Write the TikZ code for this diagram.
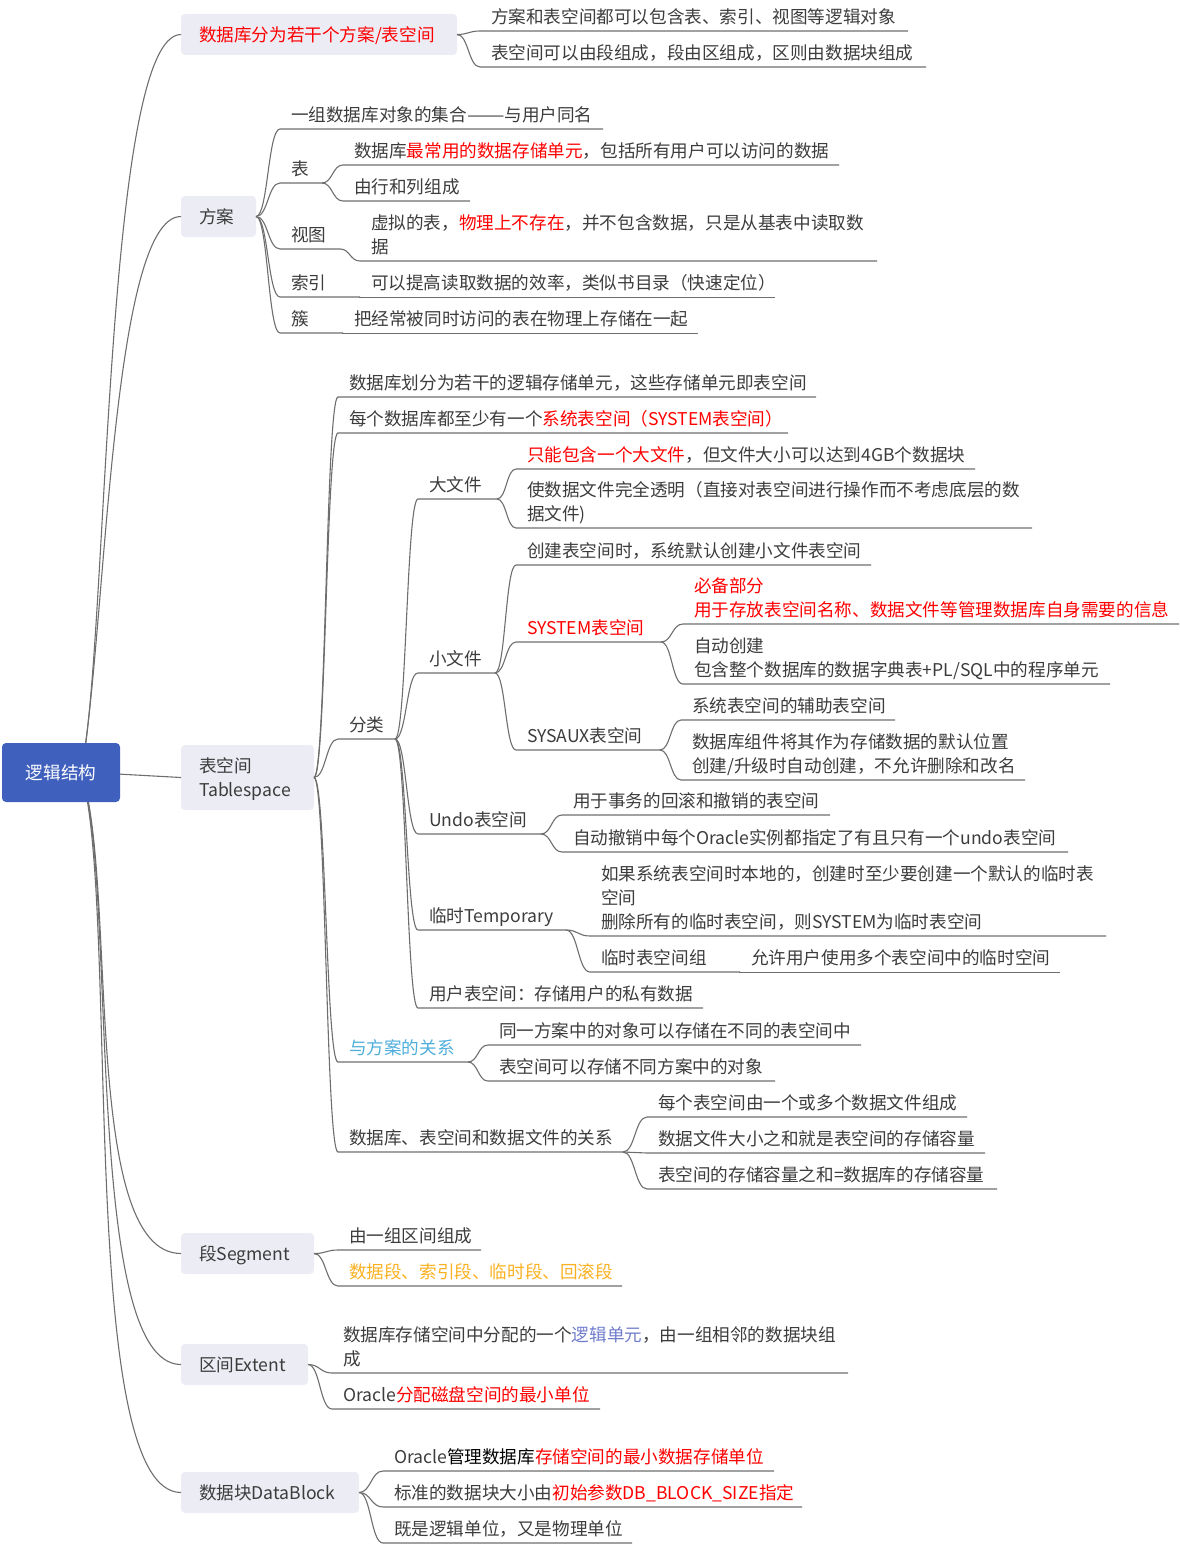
\documentclass[tikz,border=0pt]{standalone}
\usepackage{fontspec}
\setmainfont{Noto Sans CJK SC}
\usetikzlibrary{calc}

\definecolor{linkgray}{HTML}{6E6E6E}
\definecolor{textgray}{HTML}{3C3C3C}
\definecolor{topicfill}{HTML}{EBECF4}
\definecolor{rootfill}{HTML}{4060BE}
\definecolor{skyblue}{HTML}{4FAEDB}
\definecolor{amber}{HTML}{FBB122}
\definecolor{slate}{HTML}{6F7CCB}

\newcommand{\hl}[1]{\textcolor{red}{#1}}
% full-width punctuation
\newcommand{\dou}{\symbol{"FF0C}}
\newcommand{\mao}{\symbol{"FF1A}}
\newcommand{\zuo}{\symbol{"FF08}}
\newcommand{\you}{\symbol{"FF09}}
% curve from a parent's end to the start of a child's underline, then along it
\newcommand{\twig}[2]{\draw[link] (#1) .. controls ($(#1)!0.5!(#2.south west |- #1)$) and ($(#2.south west)!0.5!(#1 |- #2.south west)$) .. (#2.south west) -- (#2.south east);}

\tikzset{
	link/.style={draw=linkgray,line width=1.1pt},
	leaf/.style={anchor=south west,text width={(#1-22)*1pt},inner xsep=11pt,inner ysep=0.3pt,outer sep=0pt,align=left,execute at end node=\strut},
	topic/.style={anchor=west,fill=topicfill,rounded corners=4pt,text width={(#1-36)*1pt},inner xsep=18pt,inner ysep=0pt,outer sep=0pt,minimum height=41pt,align=left,execute at begin node={\rule{0pt}{18pt}},execute at end node={\rule[-4.6pt]{0pt}{4.6pt}}},
}

\begin{document}
\begin{tikzpicture}[x=1pt,y=-1pt,font=\fontsize{17.6}{24}\selectfont,text=textgray]
	\useasboundingbox (0,0) rectangle (1179,1544);
	
	\coordinate (rootmid) at (81,772);
	\node[topic=276] (space) at (181,34.5) {\hl{数据库分为若干个方案/表空间}};
	\node[topic=75] (plan) at (181,216.5) {方案};
	\node[topic=133,minimum height=65pt] (tbs) at (181,777.5) {表空间\\Tablespace};
	\node[topic=133] (seg) at (181,1253.5) {段Segment};
	\node[topic=127] (ext) at (181,1364.5) {区间Extent};
	\node[topic=178] (block) at (181,1492.5) {数据块DataBlock};
	
	\draw[link] (rootmid) .. controls (108,650) and (104,34.5) .. (space.west);
	\draw[link] (rootmid) .. controls (106,640) and (110,216.5) .. (plan.west);
	\draw[link] (rootmid) -- (tbs.west);
	\draw[link] (rootmid) .. controls (118,880) and (80,1253.5) .. (seg.west);
	\draw[link] (rootmid) .. controls (118,880) and (82,1364.5) .. (ext.west);
	\draw[link] (rootmid) .. controls (120,900) and (76,1492.5) .. (block.west);
	\node[fill=rootfill,rounded corners=4pt,text=white,minimum width=118pt,minimum height=59pt,inner sep=0pt,outer sep=0pt] (root) at (61,772.5) {逻辑结构};
	
	%first topic
	\node[leaf=428] (space1) at (480,31) {方案和表空间都可以包含表、索引、视图等逻辑对象};
	\node[leaf=446] (space2) at (480,67) {表空间可以由段组成\dou{}段由区组成\dou{}区则由数据块组成};
	\twig{space.east}{space1} \twig{space.east}{space2}
	
	%plan
	\node[leaf=323] (plan1) at (280,129) {一组数据库对象的集合\scalebox{1.27}[1]{——}与用户同名};
	\node[leaf=42] (plan2) at (280,183) {表};
	\node[leaf=60] (plan3) at (280,249) {视图};
	\node[leaf=80] (plan4) at (280,297) {索引};
	\node[leaf=63] (plan5) at (280,333) {簇};
	\foreach \n in {plan1,plan2,plan3,plan4,plan5} {\twig{plan.east}{\n}}
	\node[leaf=496] (tab1) at (343,165) {数据库\hl{最常用的数据存储单元}\dou{}包括所有用户可以访问的数据};
	\node[leaf=127] (tab2) at (343,201) {由行和列组成};
	\twig{plan2.south east}{tab1} \twig{plan2.south east}{tab2}
	\node[leaf=517] (view1) at (360,261) {虚拟的表\dou{}\hl{物理上不存在}\dou{}并不包含数据\dou{}只是从基表中读取数\\据};
	\twig{plan3.south east}{view1}
	\node[leaf=415] (idx1) at (360,297.05) {可以提高读取数据的效率\dou{}类似书目录\zuo{}快速定位\you{}};
	\twig{plan4.south east}{idx1}
	\node[leaf=355] (clu1) at (343,333.05) {把经常被同时访问的表在物理上存储在一起};
	\twig{plan5.south east}{clu1}
	
	%tablespace
	\node[leaf=478] (tbs1) at (338,397) {数据库划分为若干的逻辑存储单元\dou{}这些存储单元即表空间};
	\node[leaf=450] (tbs2) at (338,433) {每个数据库都至少有一个\hl{系统表空间\zuo{}SYSTEM表空间\you{}}};
	\node[leaf=57] (kind) at (338,739) {分类};
	\node[leaf=130] (rel) at (338,1062) {\textcolor{skyblue}{与方案的关系}};
	\node[leaf=285] (file) at (338,1152) {数据库、表空间和数据文件的关系};
	\foreach \n in {tbs1,tbs2,kind,rel,file} {\twig{tbs.east}{\n}}
	
	\node[leaf=79] (big) at (418,499) {大文件};
	\node[leaf=77] (small) at (418,673) {小文件};
	\node[leaf=123] (undo) at (418,834) {Undo表空间};
	\node[leaf=148] (temp) at (418,930) {临时Temporary};
	\node[leaf=285] (user) at (418,1008) {用户表空间\mao{}存储用户的私有数据};
	\foreach \n in {big,small,undo,temp,user} {\twig{kind.south east}{\n}}
	
	\node[leaf=459] (big1) at (516,469) {\hl{只能包含一个大文件}\dou{}但文件大小可以达到4GB个数据块};
	\node[leaf=516] (big2) at (516,528) {使数据文件完全透明\zuo{}直接对表空间进行操作而不考虑底层的数\\据文件)};
	\twig{big.south east}{big1} \twig{big.south east}{big2}
	
	\node[leaf=355] (small1) at (516,565) {创建表空间时\dou{}系统默认创建小文件表空间};
	\node[leaf=145] (sys) at (516,642) {\hl{SYSTEM表空间}};
	\node[leaf=144] (aux) at (516,750) {SYSAUX表空间};
	\foreach \n in {small1,sys,aux} {\twig{small.south east}{\n}}
	
	\node[leaf=496] (sys1) at (683,624) {\hl{必备部分}\\\hl{用于存放表空间名称、数据文件等管理数据库自身需要的信息}};
	\node[leaf=427] (sys2) at (683,684) {自动创建\\包含整个数据库的数据字典表+PL/SQL中的程序单元};
	\twig{sys.south east}{sys1} \twig{sys.south east}{sys2}
	\node[leaf=214] (aux1) at (681,720) {系统表空间的辅助表空间};
	\node[leaf=344] (aux2) at (681,780) {数据库组件将其作为存储数据的默认位置\\创建/升级时自动创建\dou{}不允许删除和改名};
	\twig{aux.south east}{aux1} \twig{aux.south east}{aux2}
	
	\node[leaf=268] (undo1) at (562,815) {用于事务的回滚和撤销的表空间};
	\node[leaf=506] (undo2) at (562,852) {自动撤销中每个Oracle实例都指定了有且只有一个undo表空间};
	\twig{undo.south east}{undo1} \twig{undo.south east}{undo2}
	
	\node[leaf=516] (temp1) at (590,936) {如果系统表空间时本地的\dou{}创建时至少要创建一个默认的临时表\\空间\\删除所有的临时表空间\dou{}则SYSTEM为临时表空间};
	\node[leaf=150] (temp2) at (590,972) {临时表空间组};
	\node[leaf=320] (temp3) at (740,972.05) {允许用户使用多个表空间中的临时空间};
	\twig{temp.south east}{temp1} \twig{temp.south east}{temp2} \twig{temp2.south east}{temp3}
	
	\node[leaf=373] (rel1) at (488,1045) {同一方案中的对象可以存储在不同的表空间中};
	\node[leaf=287] (rel2) at (488,1081) {表空间可以存储不同方案中的对象};
	\twig{rel.south east}{rel1} \twig{rel.south east}{rel2}
	
	\node[leaf=320] (file1) at (647,1117) {每个表空间由一个或多个数据文件组成};
	\node[leaf=338] (file2) at (647,1153) {数据文件大小之和就是表空间的存储容量};
	\node[leaf=350] (file3) at (647,1189) {表空间的存储容量之和=数据库的存储容量};
	\foreach \n in {file1,file2,file3} {\twig{file.south east}{\n}}
	
	%segment, extent, block
	\node[leaf=143] (seg1) at (338,1250) {由一组区间组成};
	\node[leaf=284] (seg2) at (338,1286) {\textcolor{amber}{数据段、索引段、临时段、回滚段}};
	\twig{seg.east}{seg1} \twig{seg.east}{seg2}
	
	\node[leaf=516] (ext1) at (332,1373) {数据库存储空间中分配的一个\textcolor{slate}{逻辑单元}\dou{}由一组相邻的数据块组\\成};
	\node[leaf=268] (ext2) at (332,1409) {Oracle\hl{分配磁盘空间的最小单位}};
	\twig{ext.east}{ext1} \twig{ext.east}{ext2}
	
	\node[leaf=391] (block1) at (383,1471) {Oracle\textcolor{black}{管理数据库}\hl{存储空间的最小数据存储单位}};
	\node[leaf=419] (block2) at (383,1507) {标准的数据块大小由\hl{初始参数DB\_BLOCK\_SIZE指定}};
	\node[leaf=249] (block3) at (383,1543) {既是逻辑单位\dou{}又是物理单位};
	\foreach \n in {block1,block2,block3} {\twig{block.east}{\n}}
\end{tikzpicture}
\end{document}
